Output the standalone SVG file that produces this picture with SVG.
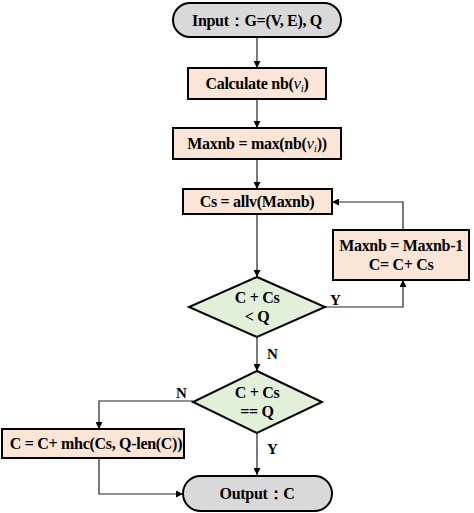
<svg xmlns="http://www.w3.org/2000/svg" width="474" height="513" viewBox="0 0 474 513">
<defs>
<style>
.t{font-family:"Liberation Serif","Times New Roman",serif;font-weight:bold;font-size:16px;letter-spacing:-0.3px;fill:#000;text-anchor:middle}
.m{font-style:italic;font-weight:normal;font-size:17px}
.s{font-style:italic;font-weight:normal;font-size:11px}
.box{fill:#fbe5d6;stroke:#000;stroke-width:2}
.dia{fill:#e2f0d9;stroke:#000;stroke-width:2}
.term{fill:#d9d9d9;stroke:#000;stroke-width:2}
.c{fill:none;stroke:#222;stroke-width:1.2;marker-end:url(#ah)}
.lbl{font-family:"Liberation Serif","Times New Roman",serif;font-weight:bold;font-size:15px;fill:#000}
</style>
<marker id="ah" viewBox="0 0 10 10" refX="10" refY="5" markerWidth="7" markerHeight="7" markerUnits="userSpaceOnUse" orient="auto">
<path d="M0,0 L10,5 L0,10 z" fill="#000"/>
</marker>
</defs>
<rect width="474" height="513" fill="#fff"/>
<g id="connectors">
<path class="c" d="M257,37 V68"/>
<path class="c" d="M257,99 V128"/>
<path class="c" d="M257,159 V189"/>
<path class="c" d="M257,214 V277"/>
<path class="c" d="M325,307 H403 V280"/>
<path class="c" d="M403,230 V202 H332"/>
<path class="c" d="M257,337 V371"/>
<path class="c" d="M193,401 H99 V429"/>
<path class="c" d="M257,433 V475"/>
<path class="c" d="M99,458 V494 H183"/>
<text class="lbl" x="330" y="305">Y</text>
<text class="lbl" x="267" y="359">N</text>
<text class="lbl" x="176" y="398">N</text>
<text class="lbl" x="267" y="454">Y</text>
</g>
<g id="input">
<rect class="term" x="173" y="3" width="168" height="34" rx="17"/>
<text class="t" x="257" y="26">Input：G=(V, E), Q</text>
</g>
<g id="calc">
<rect class="box" x="188" y="68" width="138" height="31"/>
<text class="t" x="257" y="89">Calculate  nb(<tspan class="m">v</tspan><tspan class="s" dy="3">i</tspan><tspan dy="-3">)</tspan></text>
</g>
<g id="maxnb">
<rect class="box" x="173" y="128" width="168" height="31"/>
<text class="t" x="257" y="149">Maxnb = max(nb(<tspan class="m">v</tspan><tspan class="s" dy="3">i</tspan><tspan dy="-3">))</tspan></text>
</g>
<g id="cs">
<rect class="box" x="183" y="189" width="149" height="25"/>
<text class="t" x="257" y="207">Cs = allv(Maxnb)</text>
</g>
<g id="update">
<rect class="box" x="333" y="230" width="136" height="50"/>
<text class="t" x="401" y="251">Maxnb = Maxnb-1</text>
<text class="t" x="401" y="270">C= C+ Cs</text>
</g>
<g id="cond1">
<path class="dia" d="M257,277 L325,307 L257,337 L189,307 Z"/>
<text class="t" x="257" y="303">C + Cs</text>
<text class="t" x="257" y="322">&lt; Q</text>
</g>
<g id="cond2">
<path class="dia" d="M257,371 L322,402 L257,433 L193,402 Z"/>
<text class="t" x="257" y="398">C + Cs</text>
<text class="t" x="257" y="417">== Q</text>
</g>
<g id="mhc">
<rect class="box" x="2" y="429" width="182" height="29"/>
<text class="t" x="96" y="449">C = C+ mhc(Cs, Q-len(C))</text>
</g>
<g id="output">
<rect class="term" x="183" y="476" width="149" height="35" rx="17.5"/>
<text class="t" x="257" y="499">Output：C</text>
</g>
</svg>
